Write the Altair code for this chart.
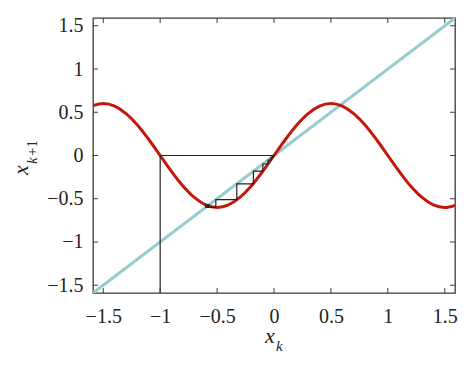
import altair as alt
import pandas as pd

# ---- data ----
curve_x = [-1.59, -1.5, -1.4, -1.3, -1.2, -1.1, -1.0, -0.9, -0.8, -0.7, -0.6, -0.5,
           -0.4, -0.3, -0.2, -0.1, 0.0, 0.1, 0.2, 0.3, 0.4, 0.5, 0.6, 0.7, 0.8,
           0.9, 1.0, 1.1, 1.2, 1.3, 1.4, 1.5, 1.59]
curve_y = [0.576, 0.600, 0.571, 0.485, 0.353, 0.185, 0.0, -0.185, -0.353, -0.485,
           -0.571, -0.600, -0.571, -0.485, -0.353, -0.185, 0.0, 0.185, 0.353, 0.485,
           0.571, 0.600, 0.571, 0.485, 0.353, 0.185, 0.0, -0.185, -0.353, -0.485,
           -0.571, -0.600, -0.576]
diag_x = [-1.59, 1.59]
iterates = [-1.0, 0.0, -0.004, -0.008, -0.015, -0.028, -0.052, -0.098, -0.181,
            -0.327, -0.511, -0.600, -0.571, -0.585, -0.579, -0.582]
cobweb_start_y = -1.59
tick_values = [-1.5, -1.0, -0.5, 0.0, 0.5, 1.0, 1.5]
x_title = ["x", "k"]
y_title = ["x", "k", "+1"]

LO, HI = -1.59, 1.59
W, H = 362, 275
FONT = "Liberation Serif"
RED = "#C2190D"
TEAL = "#96CDCE"
DARK = "#3a3a3a"

# tables built from the lists
curve_df = pd.DataFrame({"x": curve_x, "y": curve_y})
diag_df = pd.DataFrame({"x": diag_x, "y": diag_x})
pts = [(iterates[0], cobweb_start_y)]
for a, b in zip(iterates[:-1], iterates[1:]):
    pts.append((a, b))
    pts.append((b, b))
cob_df = pd.DataFrame({"x": [p[0] for p in pts], "y": [p[1] for p in pts],
                       "o": list(range(len(pts)))})
ticks_df = pd.DataFrame({"v": tick_values})

xs = alt.Scale(domain=[LO, HI], nice=False, zero=False)
ys = alt.Scale(domain=[LO, HI], nice=False, zero=False)

xaxis = alt.Axis(values=tick_values, format="~g", ticks=False, tickSize=0, domain=False,
                 grid=False, labelFont=FONT, labelFontSize=20, labelColor="#222",
                 labelPadding=13, title=None, labelFlush=False)
yaxis = alt.Axis(values=tick_values, format="~g", ticks=False, tickSize=0, domain=False,
                 grid=False, labelFont=FONT, labelFontSize=20, labelColor="#222",
                 labelPadding=10, title=None)

diag = alt.Chart(diag_df).mark_line(color=TEAL, strokeWidth=3, clip=True).encode(
    x=alt.X("x:Q", scale=xs, axis=xaxis),
    y=alt.Y("y:Q", scale=ys, axis=yaxis),
)
curve = alt.Chart(curve_df).mark_line(color=RED, strokeWidth=3, interpolate="monotone",
                                      clip=True).encode(
    x=alt.X("x:Q", scale=xs), y=alt.Y("y:Q", scale=ys))
cob = alt.Chart(cob_df).mark_line(color="#222", strokeWidth=1.2, clip=True).encode(
    x=alt.X("x:Q", scale=xs), y=alt.Y("y:Q", scale=ys), order="o:Q")

tk = dict(color=DARK, strokeWidth=1)
t_bottom = alt.Chart(ticks_df).mark_rule(**tk).encode(
    x=alt.X("v:Q", scale=xs), y=alt.value(H), y2=alt.value(H - 5))
t_top = alt.Chart(ticks_df).mark_rule(**tk).encode(
    x=alt.X("v:Q", scale=xs), y=alt.value(0), y2=alt.value(5))
t_left = alt.Chart(ticks_df).mark_rule(**tk).encode(
    y=alt.Y("v:Q", scale=ys), x=alt.value(0), x2=alt.value(5))
t_right = alt.Chart(ticks_df).mark_rule(**tk).encode(
    y=alt.Y("v:Q", scale=ys), x=alt.value(W), x2=alt.value(W - 5))

def label(txt, x, y, size, italic=True, angle=0):
    kw = dict(font=FONT, fontSize=size, align="left", baseline="alphabetic",
              color="#222")
    if italic:
        kw["fontStyle"] = "italic"
    if angle:
        kw["angle"] = angle
    return alt.Chart(pd.DataFrame({"t": [txt]})).mark_text(**kw).encode(
        text="t:N", x=alt.value(x), y=alt.value(y))

titles = [
    label(x_title[0], 172, 325, 22),
    label(x_title[1], 183, 333, 15),
    label(y_title[0], -65, 157, 22, angle=270),
    label(y_title[1], -56, 146, 15, angle=270),
    label(y_title[2], -56, 138, 15, italic=False, angle=270),
]

chart = alt.layer(diag, curve, cob, t_bottom, t_top, t_left, t_right, *titles).properties(
    width=W, height=H,
    padding={"left": 93, "top": 18, "right": 19, "bottom": 75},
    autosize=alt.AutoSizeParams(type="none"),
    background="white",
).configure(font=FONT).configure_view(stroke=DARK, strokeWidth=1.3)

chart.save("out.html", embed_options={"renderer": "svg", "actions": False})
